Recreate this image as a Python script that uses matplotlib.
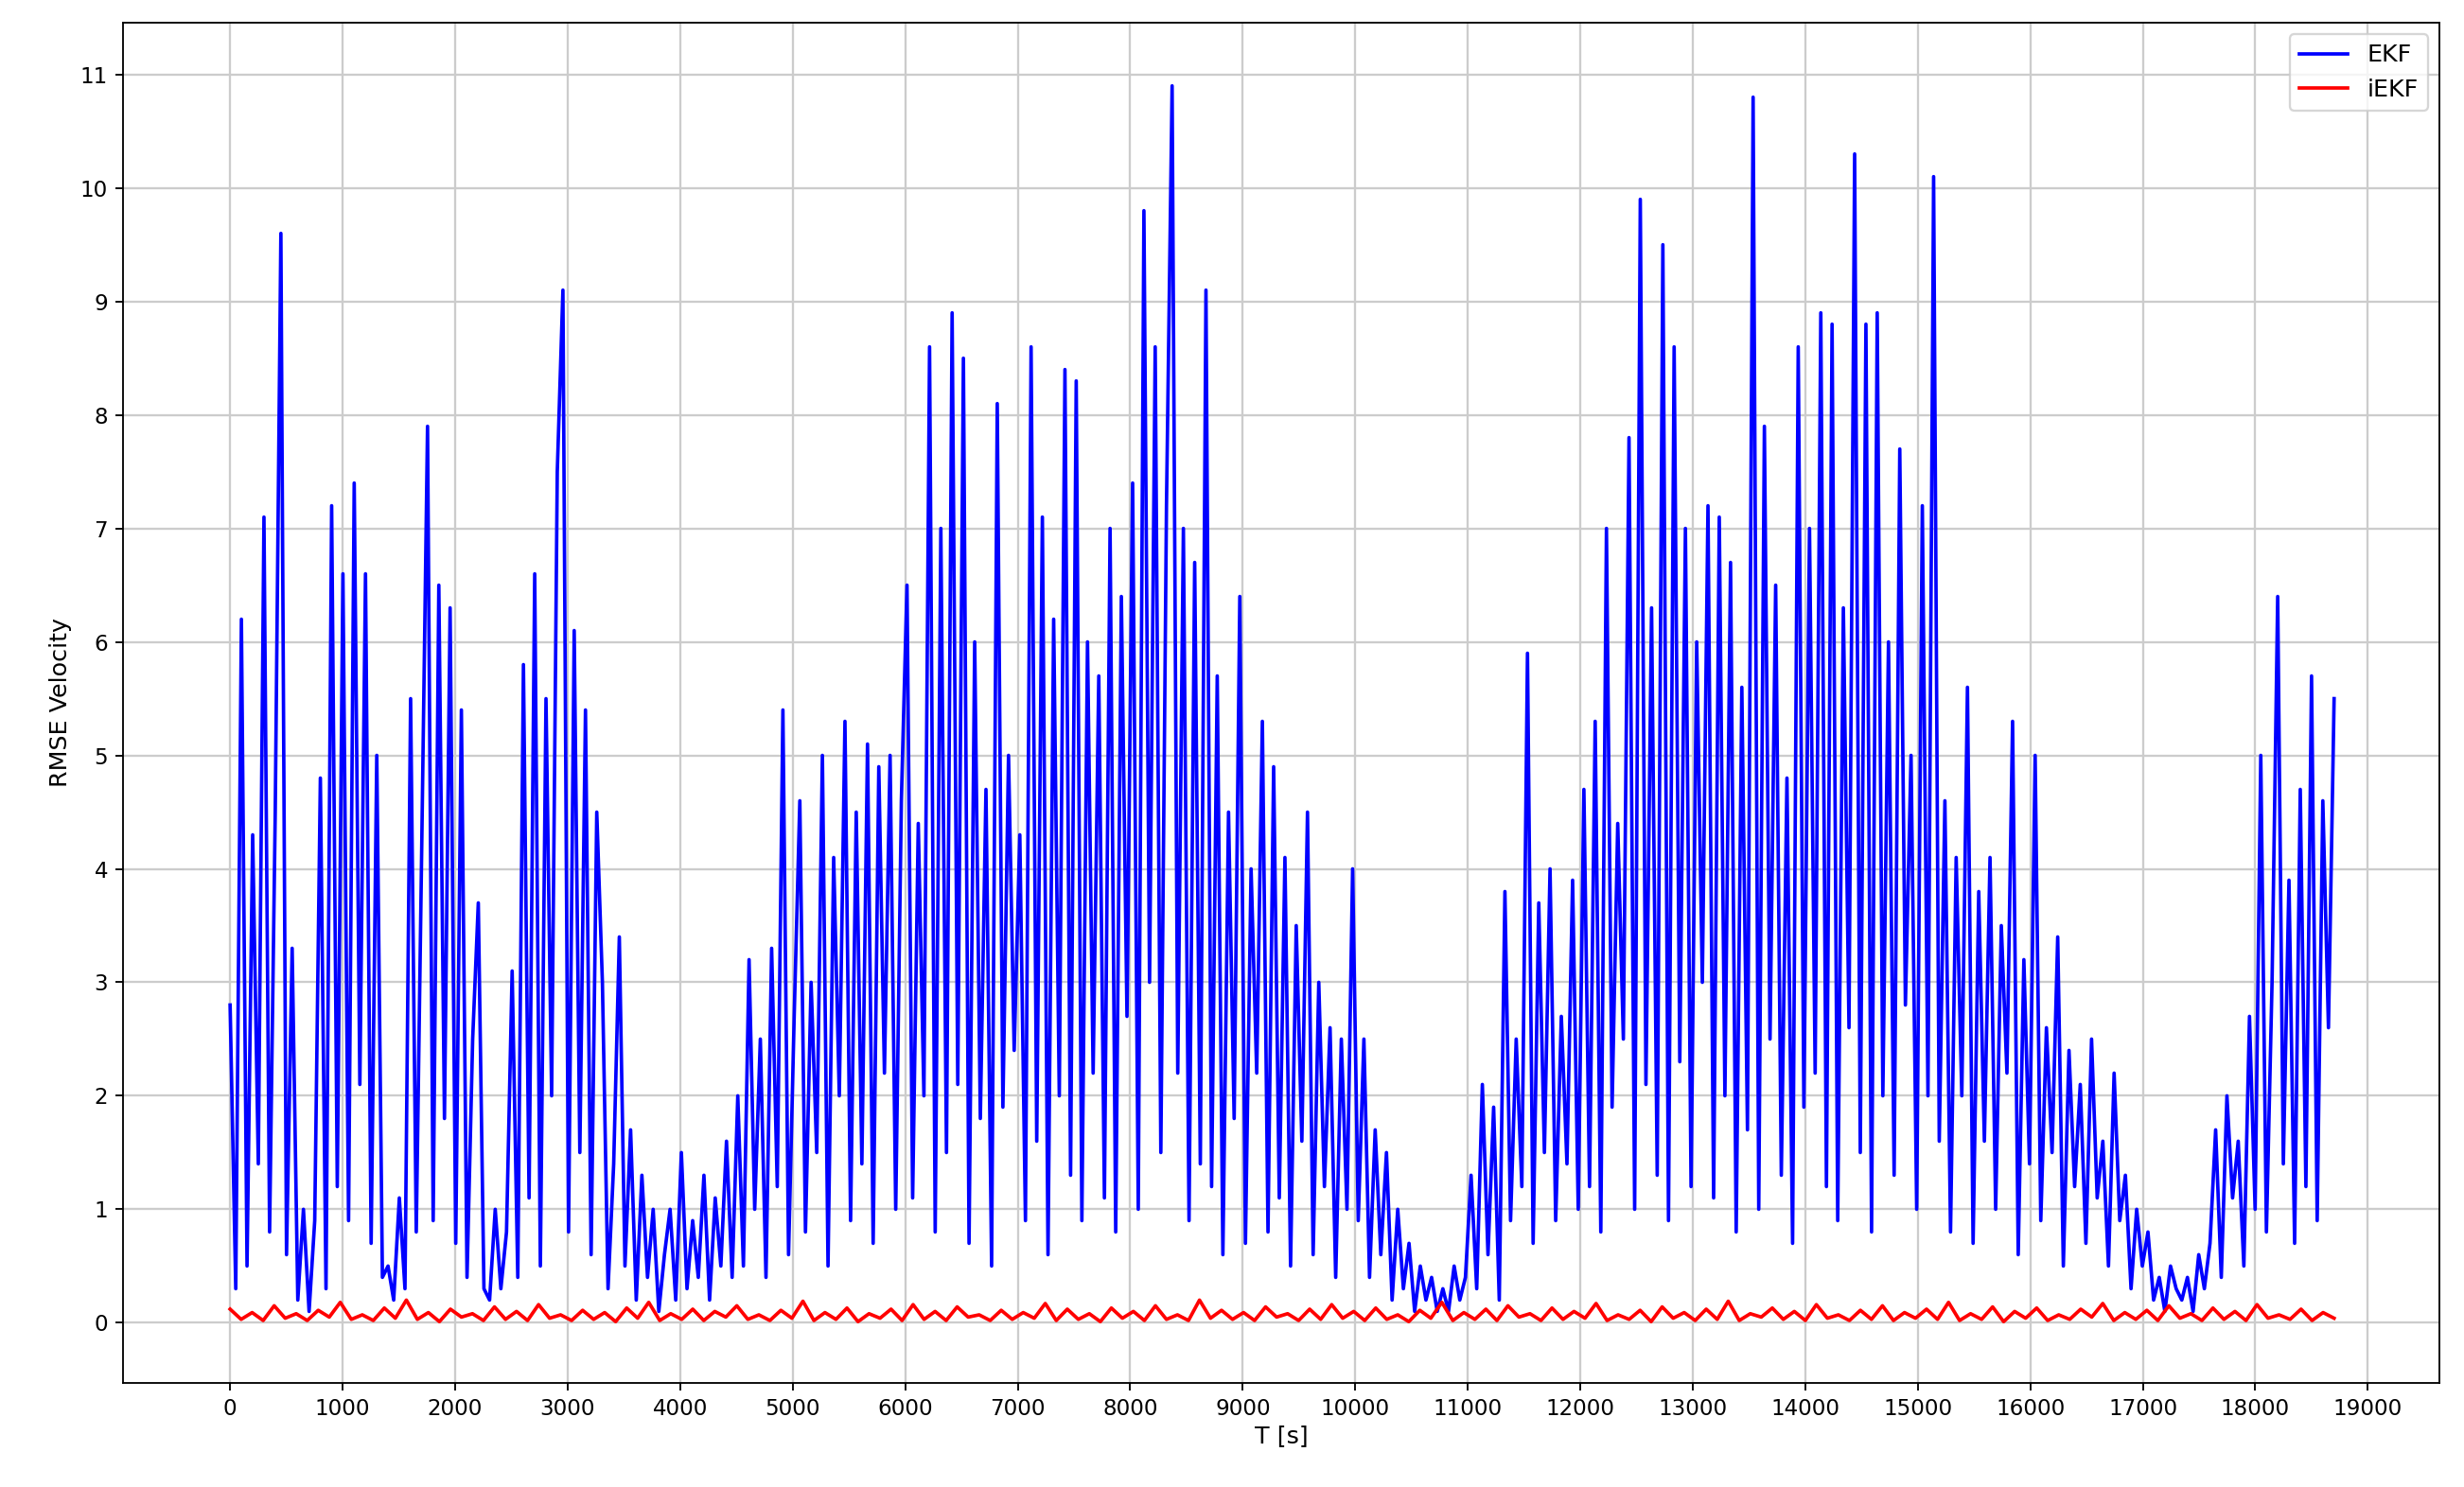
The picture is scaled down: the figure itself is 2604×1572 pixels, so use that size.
import numpy as np
import matplotlib.pyplot as plt

# EKF RMSE velocity (spikes and dips, roughly every 50 s)
ekf_values = [
    2.8, 0.3, 6.2, 0.5, 4.3, 1.4, 7.1, 0.8, 4.5, 9.6, 0.6, 3.3,
    0.2, 1.0, 0.1, 0.9,
    4.8, 0.3, 7.2, 1.2, 6.6, 0.9, 7.4, 2.1, 6.6, 0.7, 5.0, 0.4,
    0.5, 0.2, 1.1, 0.3,
    5.5, 0.8, 4.3, 7.9, 0.9, 6.5, 1.8, 6.3, 0.7, 5.4, 0.4, 2.5, 3.7, 0.3,
    0.2, 1.0, 0.3, 0.8,
    3.1, 0.4, 5.8, 1.1, 6.6, 0.5, 5.5, 2.0, 7.5, 9.1, 0.8, 6.1, 1.5, 5.4, 0.6, 4.5,
    3.0, 0.3, 1.4, 3.4, 0.5, 1.7, 0.2, 1.3, 0.4, 1.0, 0.1, 0.6,
    1.0, 0.2, 1.5, 0.3, 0.9, 0.4, 1.3, 0.2, 1.1, 0.5, 1.6, 0.4,
    2.0, 0.5, 3.2, 1.0, 2.5, 0.4, 3.3, 1.2, 5.4, 0.6, 2.7, 4.6, 0.8, 3.0, 1.5,
    5.0, 0.5, 4.1, 2.0, 5.3, 0.9, 4.5, 1.4, 5.1, 0.7, 4.9, 2.2, 5.0, 1.0, 4.6,
    6.5, 1.1, 4.4, 2.0, 8.6, 0.8, 7.0, 1.5, 8.9, 2.1, 8.5, 0.7, 6.0, 1.8, 4.7,
    0.5, 8.1, 1.9, 5.0, 2.4, 4.3, 0.9, 8.6, 1.6, 7.1, 0.6, 6.2, 2.0, 8.4, 1.3,
    8.3, 0.9, 6.0, 2.2, 5.7, 1.1, 7.0, 0.8, 6.4, 2.7, 7.4, 1.0, 9.8, 3.0, 8.6,
    1.5, 7.2, 10.9, 2.2, 7.0, 0.9, 6.7, 1.4, 9.1,
    1.2, 5.7, 0.6, 4.5, 1.8, 6.4, 0.7, 4.0, 2.2, 5.3, 0.8, 4.9, 1.1, 4.1, 0.5,
    3.5, 1.6, 4.5, 0.6, 3.0, 1.2, 2.6, 0.4, 2.5, 1.0, 4.0,
    0.9, 2.5, 0.4, 1.7, 0.6, 1.5, 0.2, 1.0, 0.3, 0.7, 0.1, 0.5,
    0.2, 0.4, 0.1, 0.3, 0.1, 0.5, 0.2, 0.4,
    1.3, 0.3, 2.1, 0.6, 1.9, 0.2, 3.8, 0.9, 2.5, 1.2, 5.9, 0.7, 3.7, 1.5, 4.0,
    0.9, 2.7, 1.4, 3.9, 1.0,
    4.7, 1.2, 5.3, 0.8, 7.0, 1.9, 4.4, 2.5, 7.8, 1.0, 9.9, 2.1, 6.3, 1.3, 9.5,
    0.9, 8.6, 2.3, 7.0, 1.2, 6.0, 3.0, 7.2, 1.1, 7.1, 2.0, 6.7, 0.8, 5.6, 1.7,
    10.8, 1.0, 7.9, 2.5, 6.5, 1.3, 4.8, 0.7, 8.6, 1.9, 7.0, 2.2, 8.9, 1.2, 8.8,
    0.9, 6.3, 2.6, 10.3, 1.5, 8.8, 0.8, 8.9, 2.0, 6.0, 1.3, 7.7, 2.8, 5.0, 1.0,
    7.2, 2.0, 10.1, 1.6,
    4.6, 0.8, 4.1, 2.0, 5.6, 0.7, 3.8, 1.6, 4.1, 1.0, 3.5, 2.2, 5.3, 0.6, 3.2,
    1.4, 5.0, 0.9, 2.6, 1.5, 3.4, 0.5, 2.4, 1.2, 2.1, 0.7, 2.5, 1.1, 1.6, 0.5,
    2.2, 0.9,
    1.3, 0.3, 1.0, 0.5, 0.8, 0.2, 0.4, 0.1, 0.5, 0.3, 0.2, 0.4, 0.1, 0.6, 0.3, 0.7,
    1.7, 0.4, 2.0, 1.1, 1.6, 0.5, 2.7, 1.0, 5.0, 0.8, 3.0, 6.4, 1.4, 3.9, 0.7,
    4.7, 1.2, 5.7, 0.9, 4.6, 2.6, 5.5,
]

# iEKF RMSE velocity, small noise near zero
iekf_values = [
    0.12, 0.03, 0.09, 0.02, 0.15, 0.04, 0.08, 0.02, 0.11, 0.05, 0.18, 0.03,
    0.07, 0.02, 0.13, 0.04, 0.20, 0.03, 0.09, 0.01, 0.12, 0.05, 0.08, 0.02,
    0.14, 0.03, 0.10, 0.02, 0.16, 0.04, 0.07, 0.02, 0.11, 0.03, 0.09, 0.01,
    0.13, 0.04, 0.18, 0.02, 0.08, 0.03, 0.12, 0.02, 0.10, 0.05, 0.15, 0.03,
    0.07, 0.02, 0.11, 0.04, 0.19, 0.02, 0.09, 0.03, 0.13, 0.01, 0.08, 0.04,
    0.12, 0.02, 0.16, 0.03, 0.10, 0.02, 0.14, 0.05, 0.07, 0.02, 0.11, 0.03,
    0.09, 0.04, 0.17, 0.02, 0.12, 0.03, 0.08, 0.01, 0.13, 0.04, 0.10, 0.02,
    0.15, 0.03, 0.07, 0.02, 0.20, 0.04, 0.11, 0.03, 0.09, 0.02, 0.14, 0.05,
    0.08, 0.02, 0.12, 0.03, 0.16, 0.04, 0.10, 0.02, 0.13, 0.03, 0.07, 0.01,
    0.11, 0.04, 0.18, 0.02, 0.09, 0.03, 0.12, 0.02, 0.15, 0.05, 0.08, 0.02,
    0.13, 0.03, 0.10, 0.04, 0.17, 0.02, 0.07, 0.03, 0.11, 0.01, 0.14, 0.04,
    0.09, 0.02, 0.12, 0.03, 0.19, 0.02, 0.08, 0.05, 0.13, 0.03, 0.10, 0.02,
    0.16, 0.04, 0.07, 0.02, 0.11, 0.03, 0.15, 0.02, 0.09, 0.04, 0.12, 0.03,
    0.18, 0.02, 0.08, 0.03, 0.14, 0.01, 0.10, 0.04, 0.13, 0.02, 0.07, 0.03,
    0.12, 0.05, 0.17, 0.02, 0.09, 0.03, 0.11, 0.02, 0.15, 0.04, 0.08, 0.02,
    0.13, 0.03, 0.10, 0.02, 0.16, 0.04, 0.07, 0.03, 0.12, 0.02, 0.09, 0.04,
]

t_end = 18700
ekf_t = np.linspace(0, t_end, len(ekf_values))
iekf_t = np.linspace(0, t_end, len(iekf_values))

fig, ax = plt.subplots(figsize=(15.69, 9.47), dpi=166)
ax.plot(ekf_t, ekf_values, color="blue", linewidth=1.6, label="EKF")
ax.plot(iekf_t, iekf_values, color="red", linewidth=1.6, label="iEKF")

ax.set_xlim(-950, 19640)
ax.set_ylim(-0.53, 11.46)
ax.set_xticks(np.arange(0, 19001, 1000))
ax.set_yticks(np.arange(0, 12, 1))
ax.tick_params(labelsize=10)
ax.set_xlabel("T [s]", fontsize=11, labelpad=2)
ax.set_ylabel("RMSE Velocity", fontsize=11)
ax.grid(True, color="#cccccc", linewidth=1)
ax.legend(loc="upper right", fontsize=11)

plt.subplots_adjust(left=0.05, right=0.99, top=0.985, bottom=0.07)
plt.savefig("out.png")
